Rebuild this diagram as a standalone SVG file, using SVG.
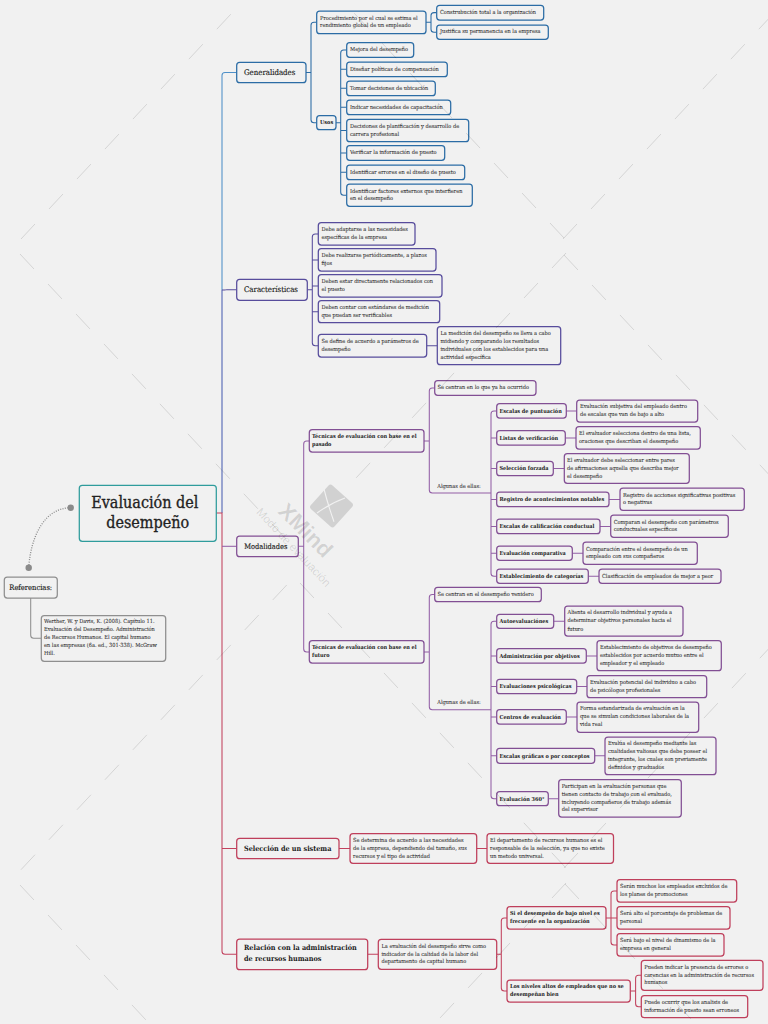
<svg xmlns="http://www.w3.org/2000/svg" width="768" height="1024" viewBox="0 0 768 1024">
<style>
text{font-family:"DejaVu Serif Condensed","DejaVu Serif","Liberation Serif",serif;fill:#333;font-size:5.6px;stroke:#333;stroke-width:.08}
.h{font-weight:bold;fill:#1c1c1c;font-size:5.5px;stroke:none}
.l{font-size:7.8px;fill:#222;stroke:#222;stroke-width:.15}
.lb{font-size:7.2px;font-weight:bold;fill:#222;stroke:none}
rect{fill:#f1f1f1;stroke-width:1.25}
.b rect{stroke:#2b6ca5}.i rect{stroke:#574c9c}.p rect{stroke:#824f94}.r rect{stroke:#bf3f5b}.g rect{stroke:#8f8f8f}
#connectors path{fill:none;stroke-width:1.05}
.cb{stroke:#2b6ca5}.ci{stroke:#574c9c}.cp{stroke:#935fa6}.cr{stroke:#c2425e}.cg{stroke:#8f8f8f}
#marks path{fill:none;stroke:#000;stroke-opacity:.12;stroke-width:1;stroke-dasharray:20.5 20.5}
</style>
<rect width="768" height="1024" style="fill:#f1f1f1;stroke:none"/>
<g id="connectors">
<path class="cb" style="stroke:#4f90c8" d="M222 290V75.5Q222 72.5 225 72.5H236.7"/>
<path style="stroke:#4a5fb2" d="M222 513V290"/>
<path class="ci" d="M222 290H225Q225 289.8 227 289.8H236.7"/>
<path class="cr" d="M216.3 513H222V951.3Q222 954.3 225 954.3H236.7M222 848.5H236.7"/>
<path class="cp" d="M222 546.3H236.7"/>
<path class="cb" d="M306 72.5H311M314 22.3Q311 22.3 311 25.3V119.7Q311 122.7 314 122.7H316.7M314 22.3H316.7"/>
<path class="cb" d="M426 22.3H431M434 12.6Q431 12.6 431 15.6V29.2Q431 32.2 434 32.2H436.7M434 12.6H436.7"/>
<path class="cb" d="M336 122.7H340.7M346.7 50H343.7Q340.7 50 340.7 53V192.2Q340.7 195.2 343.7 195.2H346.7M340.7 69.3H346.7M340.7 88.3H346.7M340.7 107.3H346.7M340.7 130.5H346.7M340.7 153H346.7M340.7 172.3H346.7"/>
<path class="ci" d="M307.3 289.8H312.3M318.3 233.9H315.3Q312.3 233.9 312.3 236.9V342.7Q312.3 345.7 315.3 345.7H318.3M312.3 259.9H318.3M312.3 285.9H318.3M312.3 311.7H318.3M426.7 345.7H437.3"/>
<path class="cp" d="M298.3 546.3H303.7M309.3 440.9H306.7Q303.7 440.9 303.7 443.9V648.9Q303.7 651.9 306.7 651.9H309.3"/>
<path class="cp" d="M424 440.9H429.3M434.7 388H432.3Q429.3 388 429.3 391V490Q429.3 493 432.3 493H491M496.7 410.9H494Q491 410.9 491 413.9V573.2Q491 576.2 494 576.2H496.7M491 437.9H496.7M491 468.5H496.7M491 499.4H496.7M491 526.4H496.7M491 553.2H496.7"/>
<path class="cp" d="M566.3 411H576.7M565.3 437.9H576M553.3 468.5H564.3M609 499.4H620M600 526.4H610.7M572.3 553.2H583M588.3 576.2H599"/>
<path class="cp" d="M424 651.9H429.3M434.7 594.5H432.3Q429.3 594.5 429.3 597.5V706.7Q429.3 709.7 432.3 709.7H491M496.7 621.3H494Q491 621.3 491 624.3V795.7Q491 798.7 494 798.7H496.7M491 655.9H496.7M491 686.5H496.7M491 716.9H496.7M491 755.8H496.7"/>
<path class="cp" d="M553.7 621.3H564.7M586.3 655.9H597M576.7 686.5H587M566.3 716.9H577M594.7 755.8H605M548.3 798.7H558.7"/>
<path class="cr" d="M339 848.5H350M476.7 848.5H487M367.7 954.3H378.3M496.7 954.3H501.3M507 917.9H504.3Q501.3 917.9 501.3 920.9V988Q501.3 991 504.3 991H507"/>
<path class="cr" d="M606 917.9H611M617 890.9H614Q611 890.9 611 893.9V941.9Q611 944.9 614 944.9H617M611 917.9H617M630.3 991H635.6M641.3 975.3H638.6Q635.6 975.3 635.6 978.3V1003.7Q635.6 1006.7 638.6 1006.7H641.3"/>
<path class="cg" d="M30.7 598V635.3Q30.7 638.3 33.7 638.3H41.3"/>
<path style="stroke:#8a8a8a;stroke-width:1.3;stroke-dasharray:1 1.4" d="M70.7 507.7C45 508 31 535 28.7 567.7"/>
</g>
<circle cx="70.7" cy="507.7" r="3.2" fill="#8a8a8a"/>
<circle cx="28.7" cy="567.7" r="3.2" fill="#8a8a8a"/>
<g id="root"><rect x="79.3" y="485.3" width="137" height="56" rx="3" style="stroke:#2f9c9c"/><text x="144.8" y="507.5" text-anchor="middle" style="font-size:16px;fill:#222;stroke:#222;stroke-width:.3">Evaluación del</text><text x="147.7" y="528" text-anchor="middle" style="font-size:16px;fill:#222;stroke:#222;stroke-width:.3">desempeño</text></g>
<g id="generalidades" class="b"><rect x="236.7" y="62.3" width="69.3" height="20.4" rx="3"/><text class="l" x="244" y="74.7">Generalidades</text></g>
<g id="proc" class="b"><rect x="316.7" y="11" width="109.3" height="22.7" rx="3"/><text x="320" y="19.7">Procedimiento por el cual se estima el</text><text x="320" y="27.4">rendimiento global de un empleado</text></g>
<g id="construccion" class="b"><rect x="436.7" y="5.3" width="107" height="14.7" rx="3"/><text x="440" y="13.8">Construbución total a la organización</text></g>
<g id="justifica" class="b"><rect x="436.7" y="25" width="111.6" height="14.3" rx="3"/><text x="440" y="33.4">Justifica su permanencia en la empresa</text></g>
<g id="usos" class="b"><rect x="316.7" y="115.7" width="19.3" height="14" rx="3"/><text class="h" x="320" y="124.4">Usos</text></g>
<g id="mejora" class="b"><rect x="346.7" y="42.7" width="67" height="14.6" rx="3"/><text x="350" y="51.2">Mejora del desempeño</text></g>
<g id="disenar" class="b"><rect x="346.7" y="62" width="100.6" height="14.7" rx="3"/><text x="350" y="70.5">Diseñar políticas de compensación</text></g>
<g id="tomar" class="b"><rect x="346.7" y="81" width="88.6" height="14.7" rx="3"/><text x="350" y="89.5">Tomar decisiones de ubicación</text></g>
<g id="indicar" class="b"><rect x="346.7" y="100" width="104" height="14.7" rx="3"/><text x="350" y="108.5">Indicar necesidades de capacitación</text></g>
<g id="decisiones" class="b"><rect x="346.7" y="119.3" width="122" height="22.4" rx="3"/><text x="350" y="127.8">Decisiones de planificación y desarrollo de</text><text x="350" y="135.6">carrera profesional</text></g>
<g id="verificar" class="b"><rect x="346.7" y="145.7" width="98" height="14.6" rx="3"/><text x="350" y="154.2">Verificar la información de puesto</text></g>
<g id="errores" class="b"><rect x="346.7" y="165" width="118" height="14.7" rx="3"/><text x="350" y="173.5">Identificar errores en el diseño de puesto</text></g>
<g id="factores" class="b"><rect x="346.7" y="184" width="125.6" height="22.3" rx="3"/><text x="350" y="192.5">Identificar factores externos que interfieren</text><text x="350" y="200.3">en el desempeño</text></g>
<g id="caracteristicas" class="i"><rect x="236.7" y="279.3" width="70.6" height="21" rx="3"/><text class="l" x="244" y="292">Características</text></g>
<g id="c1" class="i"><rect x="318.3" y="222.7" width="96.7" height="22.3" rx="3"/><text x="321.5" y="231.2">Debe adaptarse a las necesidades</text><text x="321.5" y="239">específicas de la empresa</text></g>
<g id="c2" class="i"><rect x="318.3" y="248.7" width="117.7" height="22.3" rx="3"/><text x="321.5" y="257.2">Debe realizarse periódicamente, a plazos</text><text x="321.5" y="265">fijos</text></g>
<g id="c3" class="i"><rect x="318.3" y="274.7" width="123.7" height="22.3" rx="3"/><text x="321.5" y="283.2">Deben estar directamente relacionados con</text><text x="321.5" y="291">el puesto</text></g>
<g id="c4" class="i"><rect x="318.3" y="300.7" width="121.4" height="22" rx="3"/><text x="321.5" y="309">Deben contar con estándares de medición</text><text x="321.5" y="316.8">que puedan ser verificables</text></g>
<g id="c5" class="i"><rect x="318.3" y="334.3" width="108.4" height="22.7" rx="3"/><text x="321.5" y="343">Se define de acuerdo a parámetros de</text><text x="321.5" y="350.8">desempeño</text></g>
<g id="c6" class="i"><rect x="437.3" y="326.7" width="123.4" height="38" rx="3"/><text x="440.5" y="335.2">La medición del desempeño se lleva a cabo</text><text x="440.5" y="343">midiendo y comparando los resultados</text><text x="440.5" y="350.8">individuales con los establecidos para una</text><text x="440.5" y="358.6">actividad específica</text></g>
<g id="modalidades" class="p"><rect x="236.7" y="536" width="61.6" height="20.7" rx="3"/><text class="l" x="244.3" y="548.7" style="font-size:7.4px">Modalidades</text></g>
<g id="pasado" class="p"><rect x="309.3" y="429.7" width="114.7" height="22.3" rx="3"/><text class="h" x="312" y="438.2">Técnicas de evaluación con base en el</text><text class="h" x="312" y="446">pasado</text></g>
<g id="p0" class="p"><rect x="434.7" y="380.7" width="101.3" height="14.6" rx="3"/><text x="437.5" y="389.2">Se centran en lo que ya ha ocurrido</text></g>
<text id="algunas1" x="437.3" y="488">Algunas de ellas:</text>
<g id="p1" class="p"><rect x="496.7" y="403.7" width="69.6" height="14.3" rx="3"/><text class="h" x="499.5" y="412.6">Escalas de puntuación</text></g>
<g id="p1a" class="p"><rect x="576.7" y="400" width="121" height="22" rx="3"/><text x="580" y="408.3">Evaluación subjetiva del empleado dentro</text><text x="580" y="416.1">de escalas que van de bajo a alto</text></g>
<g id="p2" class="p"><rect x="496.7" y="430.7" width="68.6" height="14.3" rx="3"/><text class="h" x="499.5" y="439.6">Listas de verificación</text></g>
<g id="p2a" class="p"><rect x="576" y="426.7" width="124.3" height="22.3" rx="3"/><text x="579" y="435.2">El evaluador selecciona dentro de una lista,</text><text x="579" y="443">oraciones que describan el desempeño</text></g>
<g id="p3" class="p"><rect x="496.7" y="461.3" width="56.6" height="14.4" rx="3"/><text class="h" x="499.5" y="470.3">Selección forzada</text></g>
<g id="p3a" class="p"><rect x="564.3" y="453.7" width="125" height="29.6" rx="3"/><text x="567" y="461.9">El evaluador debe seleccionar entre pares</text><text x="567" y="469.7">de afirmaciones aquella que describa mejor</text><text x="567" y="477.5">el desempeño</text></g>
<g id="p4" class="p"><rect x="496.7" y="492" width="112.3" height="14.7" rx="3"/><text class="h" x="499.5" y="501.1">Registro de acontecimientos notables</text></g>
<g id="p4a" class="p"><rect x="620" y="488" width="124.3" height="22.3" rx="3"/><text x="623" y="496.5">Registro de acciones significativas positivas</text><text x="623" y="504.3">o negativas</text></g>
<g id="p5" class="p"><rect x="496.7" y="519" width="103.3" height="14.7" rx="3"/><text class="h" x="499.5" y="528.1">Escalas de calificación conductual</text></g>
<g id="p5a" class="p"><rect x="610.7" y="515" width="117.6" height="22.3" rx="3"/><text x="613.7" y="523.5">Comparan el desempeño con parámetros</text><text x="613.7" y="531.3">conductuales específicos</text></g>
<g id="p6" class="p"><rect x="496.7" y="546" width="75.6" height="14.3" rx="3"/><text class="h" x="499.5" y="554.9">Evaluación comparativa</text></g>
<g id="p6a" class="p"><rect x="583" y="542" width="114.3" height="22.3" rx="3"/><text x="586" y="550.5">Comparación entre el desempeño de un</text><text x="586" y="558.3">empleado con sus compañeros</text></g>
<g id="p7" class="p"><rect x="496.7" y="569" width="91.6" height="14.3" rx="3"/><text class="h" x="499.5" y="577.9">Establecimiento de categorías</text></g>
<g id="p7a" class="p"><rect x="599" y="569" width="122" height="14.3" rx="3"/><text x="602" y="577.9">Clasificación de empleados de mejor a peor</text></g>
<g id="futuro" class="p"><rect x="309.3" y="640.7" width="114.7" height="22.3" rx="3"/><text class="h" x="312" y="649.2">Técnicas de evaluación con base en el</text><text class="h" x="312" y="657">futuro</text></g>
<g id="f0" class="p"><rect x="434.7" y="587.3" width="106.6" height="14.4" rx="3"/><text x="437.5" y="596.2">Se centran en el desempeño venidero</text></g>
<text id="algunas2" x="437.3" y="703.6">Algunas de ellas:</text>
<g id="f1" class="p"><rect x="496.7" y="614.3" width="57" height="14" rx="3"/><text class="h" x="499.5" y="623">Autoevaluaciónes</text></g>
<g id="f1a" class="p"><rect x="564.7" y="606" width="118.3" height="30" rx="3"/><text x="567.5" y="614">Alienta el desarrollo individual y ayuda a</text><text x="567.5" y="622.3">determinar objetivos personales hacia el</text><text x="567.5" y="630.6">futuro</text></g>
<g id="f2" class="p"><rect x="496.7" y="648.7" width="89.6" height="14.3" rx="3"/><text class="h" x="499.5" y="657.6">Administración por objetivos</text></g>
<g id="f2a" class="p"><rect x="597" y="640.7" width="124.3" height="30" rx="3"/><text x="600" y="648.9">Establecimiento de objetivos de desempeño</text><text x="600" y="657">establecidos por acuerdo mutuo entre el</text><text x="600" y="665.1">empleador y el empleado</text></g>
<g id="f3" class="p"><rect x="496.7" y="679.3" width="80" height="14.4" rx="3"/><text class="h" x="499.5" y="688.3">Evaluaciones psicológicas</text></g>
<g id="f3a" class="p"><rect x="587" y="675.7" width="119.7" height="22" rx="3"/><text x="590" y="684">Evaluación potencial del individuo a cabo</text><text x="590" y="691.8">de psicólogos profesionales</text></g>
<g id="f4" class="p"><rect x="496.7" y="709.7" width="69.6" height="14.3" rx="3"/><text class="h" x="499.5" y="718.6">Centros de evaluación</text></g>
<g id="f4a" class="p"><rect x="577" y="702" width="121.7" height="30.3" rx="3"/><text x="580" y="710.3">Forma estandarizada de evaluación en la</text><text x="580" y="718.1">que se simulan condiciones laborales de la</text><text x="580" y="725.9">vida real</text></g>
<g id="f5" class="p"><rect x="496.7" y="748.3" width="98" height="15" rx="3"/><text class="h" x="499.5" y="757.6">Escalas gráficas o por conceptos</text></g>
<g id="f5a" class="p"><rect x="605" y="737" width="111" height="37.7" rx="3"/><text x="608" y="745.3">Evalúa el desempeño mediante las</text><text x="608" y="753.1">cualidades valiosas que debe poseer el</text><text x="608" y="760.9">integrante, los cuales son previamente</text><text x="608" y="768.7">definidos y graduados</text></g>
<g id="f6" class="p"><rect x="496.7" y="791.7" width="51.6" height="14" rx="3"/><text class="h" x="499.5" y="800.5">Evaluación 360°</text></g>
<g id="f6a" class="p"><rect x="558.7" y="779.7" width="122.6" height="37.3" rx="3"/><text x="561.7" y="787.9">Participan en la evaluación personas que</text><text x="561.7" y="795.7">tienen contacto de trabajo con el evaluado,</text><text x="561.7" y="803.5">incluyendo compañeros de trabajo además</text><text x="561.7" y="811.3">del supervisor</text></g>
<g id="seleccion" class="r"><rect x="236.7" y="838.3" width="102.3" height="20.4" rx="3"/><text class="lb" x="244" y="850.8">Selección de un sistema</text></g>
<g id="s1" class="r"><rect x="350" y="833.7" width="126.7" height="29.6" rx="3"/><text x="353" y="842">Se determina de acuerdo a las necesidades</text><text x="353" y="849.8">de la empresa, dependiendo del tamaño, sus</text><text x="353" y="857.6">recursos y el tipo de actividad</text></g>
<g id="s2" class="r"><rect x="487" y="833.7" width="126.5" height="29.6" rx="3"/><text x="490" y="842">El departamento de recursos humanos es el</text><text x="490" y="849.8">responsable de la selección, ya que no existe</text><text x="490" y="857.6">un metodo universal.</text></g>
<g id="relacion" class="r"><rect x="236.7" y="939" width="131" height="30.7" rx="3"/><text class="lb" x="244" y="950">Relación con la administración</text><text class="lb" x="244" y="960.8">de recursos humanos</text></g>
<g id="r1" class="r"><rect x="378.3" y="939.3" width="118.4" height="30" rx="3"/><text x="381.5" y="947.6">La evaluación del desempeño sirve como</text><text x="381.5" y="955.5">indicador de la calidad de la labor del</text><text x="381.5" y="963.4">departamento de capital humano</text></g>
<g id="r2" class="r"><rect x="507" y="906.7" width="99" height="22.3" rx="3"/><text class="h" x="510" y="915.2">Si el desempeño de bajo nivel es</text><text class="h" x="510" y="923">frecuente en la organización</text></g>
<g id="r3" class="r"><rect x="617" y="879.7" width="119.7" height="22.3" rx="3"/><text x="620" y="888.2">Serán muchos los empleados excluidos de</text><text x="620" y="896">los planes de promociones</text></g>
<g id="r4" class="r"><rect x="617" y="906.7" width="113" height="22.3" rx="3"/><text x="620" y="915.2">Será alto el porcentaje de problemas de</text><text x="620" y="923">personal</text></g>
<g id="r5" class="r"><rect x="617" y="933.7" width="107" height="22.3" rx="3"/><text x="620" y="942.2">Será bajo el nivel de dinamismo de la</text><text x="620" y="950">empresa en general</text></g>
<g id="r6" class="r"><rect x="507" y="980" width="123.3" height="22" rx="3"/><text class="h" x="510" y="988.3">Los niveles altos de empleados que no se</text><text class="h" x="510" y="996.1">desempeñan bien</text></g>
<g id="r7" class="r"><rect x="641.3" y="960.3" width="121.7" height="30" rx="3"/><text x="644.3" y="968.6">Pueden indicar la presencia de errores o</text><text x="644.3" y="976.5">carencias en la administración de recursos</text><text x="644.3" y="984.4">humanos</text></g>
<g id="r8" class="r"><rect x="641.3" y="995.7" width="106.4" height="22" rx="3"/><text x="644.3" y="1004">Puede ocurrir que los analisis de</text><text x="644.3" y="1011.8">información de puesto sean erroneos</text></g>
<g id="referencias" class="g"><rect x="4.3" y="577" width="53" height="21" rx="3"/><text class="l" x="9.3" y="590" style="font-size:7.5px">Referencias:</text></g>
<g id="werther" class="g"><rect x="41.3" y="615.7" width="124.4" height="45.6" rx="3"/><text x="44" y="623">Werther, W.  y Davis, K. (2008).  Capítulo 11.</text><text x="44" y="631">Evaluación del Desempeño. Administración</text><text x="44" y="638.9">de Recursos Humanos. El capital humano</text><text x="44" y="646.8">en las empresas (6a. ed., 301-338). McGraw</text><text x="44" y="654.7">Hill.</text></g>
<g id="marks">
<path d="M21 239L245 -1"/><path d="M20 254L287 540"/><path d="M21 869.7L287 584.7"/><path d="M20 885L160 1035"/>
<path d="M300 583L566 868"/><path d="M564 868L788 628"/><path d="M565 884L705 1034"/><path d="M566 883L412 1048"/>
<path d="M563 239L787 -1"/><path d="M564 238L340 -2"/><path d="M566 253L356 478"/><path d="M564 255L788 495"/>
</g>
<g id="watermark">
<rect x="-16" y="-16" width="32" height="32" rx="3" transform="translate(331.5 506) rotate(42)" style="fill:#000;fill-opacity:.13;stroke:none"/>
<path d="M324 489Q328 505 334 521.7M345 498Q331 503 317 513" fill="none" stroke="#f1f1f1" stroke-width="1.1"/>
<text x="306" y="538" text-anchor="middle" transform="rotate(45 306 530)" style="font-family:'Liberation Sans',sans-serif;font-size:22px;font-weight:bold;fill:#000;fill-opacity:.13;stroke:none">XMind</text>
<text x="293" y="551" text-anchor="middle" transform="rotate(47 293 548)" style="font-family:'Liberation Sans',sans-serif;font-size:11.5px;fill:#000;fill-opacity:.12;stroke:none">Modo de evaluación</text>
</g>
</svg>
